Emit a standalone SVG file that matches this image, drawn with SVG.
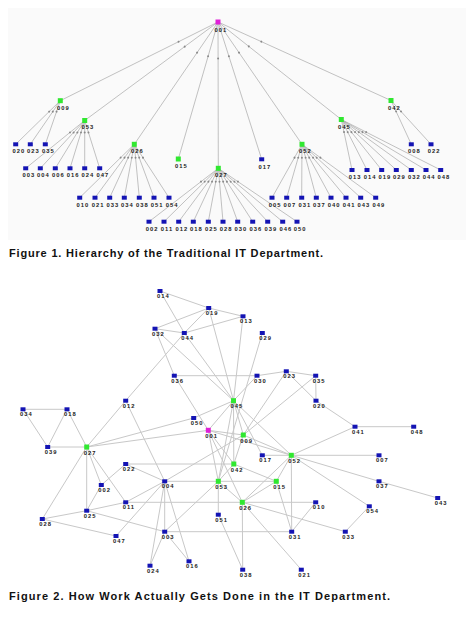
<svg xmlns="http://www.w3.org/2000/svg" width="474" height="617" viewBox="0 0 474 617">
<style>
.t{stroke:#a8a8a8;stroke-width:0.7;fill:none;marker-mid:url(#ah)}
.e{stroke:#c8c8c8;stroke-width:1;fill:none}
.b{fill:#1414b4}
.g{fill:#30e830}
.m{fill:#e020d8}
.l{font-family:"Liberation Sans",Arial,sans-serif;font-weight:bold;font-size:5.8px;letter-spacing:1px;fill:#1a1a1a}
.c{font-family:"Liberation Sans",Arial,sans-serif;font-weight:bold;font-size:11px;fill:#111}
</style>
<defs>
<marker id="ah" markerUnits="userSpaceOnUse" markerWidth="4" markerHeight="4" refX="2" refY="2" orient="auto"><circle cx="2" cy="2" r="1" fill="#8a8a8a"/></marker>
</defs>
<rect width="474" height="617" fill="#fff"/>
<rect x="8" y="8" width="458" height="232" fill="#fafafa"/>

<g id="tree-edges">
<path class="t" d="M218 22L178.6 41.7L60.3 100.7"/>
<path class="t" d="M218 22L184.7 46.6L84.7 120.5"/>
<path class="t" d="M218 22L197.1 52.6L134.3 144.3"/>
<path class="t" d="M218 22L208.1 56.3L178.3 159"/>
<path class="t" d="M218 22L218.1 58.6L218.3 168.3"/>
<path class="t" d="M218 22L228.9 56.3L261.7 159.3"/>
<path class="t" d="M218 22L239 52.6L302 144.3"/>
<path class="t" d="M218 22L248.8 46.4L341.3 119.5"/>
<path class="t" d="M218 22L261.3 41.6L391 100.5"/>
<path class="t" d="M60.3 100.7L49.15 111.6L15.7 144.3"/>
<path class="t" d="M60.3 100.7L52.8 111.6L30.3 144.3"/>
<path class="t" d="M60.3 100.7L56.55 111.6L45.3 144.3"/>
<path class="t" d="M84.7 120.5L69.95 132.45L25.7 168.3"/>
<path class="t" d="M84.7 120.5L73.6 132.45L40.3 168.3"/>
<path class="t" d="M84.7 120.5L77.35 132.45L55.3 168.3"/>
<path class="t" d="M84.7 120.5L81 132.45L70 168.3"/>
<path class="t" d="M84.7 120.5L84.7 132.45L84.7 168.3"/>
<path class="t" d="M84.7 120.5L88.45 132.45L99.7 168.3"/>
<path class="t" d="M134.3 144.3L120.65 157.65L79.7 197.7"/>
<path class="t" d="M134.3 144.3L124.5 157.65L95 197.7"/>
<path class="t" d="M134.3 144.3L128.15 157.65L109.7 197.7"/>
<path class="t" d="M134.3 144.3L131.8 157.65L124.3 197.7"/>
<path class="t" d="M134.3 144.3L135.55 157.65L139.3 197.7"/>
<path class="t" d="M134.3 144.3L139.2 157.65L154 197.7"/>
<path class="t" d="M134.3 144.3L142.98 157.65L169 197.7"/>
<path class="t" d="M218.3 168.3L201 181.65L149 221.7"/>
<path class="t" d="M218.3 168.3L204.7 181.65L164 221.7"/>
<path class="t" d="M218.3 168.3L208.4 181.65L178.7 221.7"/>
<path class="t" d="M218.3 168.3L212.05 181.65L193.3 221.7"/>
<path class="t" d="M218.3 168.3L215.8 181.65L208.3 221.7"/>
<path class="t" d="M218.3 168.3L219.5 181.65L223 221.7"/>
<path class="t" d="M218.3 168.3L223.15 181.65L237.7 221.7"/>
<path class="t" d="M218.3 168.3L226.9 181.65L252.7 221.7"/>
<path class="t" d="M218.3 168.3L230.65 181.65L267.7 221.7"/>
<path class="t" d="M218.3 168.3L234.4 181.65L282.7 221.7"/>
<path class="t" d="M218.3 168.3L237.95 181.65L297 221.7"/>
<path class="t" d="M302 144.3L294.5 157.65L272 197.7"/>
<path class="t" d="M302 144.3L298.2 157.65L286.7 197.7"/>
<path class="t" d="M302 144.3L301.9 157.65L301.7 197.7"/>
<path class="t" d="M302 144.3L305.6 157.65L316.3 197.7"/>
<path class="t" d="M302 144.3L309.25 157.65L331 197.7"/>
<path class="t" d="M302 144.3L313 157.65L346 197.7"/>
<path class="t" d="M302 144.3L316.7 157.65L360.7 197.7"/>
<path class="t" d="M302 144.3L320.4 157.65L375.7 197.7"/>
<path class="t" d="M341.3 119.5L344 132.1L352 170"/>
<path class="t" d="M341.3 119.5L347.7 132.1L367 170"/>
<path class="t" d="M341.3 119.5L351.4 132.1L381.7 170"/>
<path class="t" d="M341.3 119.5L355.05 132.1L396.3 170"/>
<path class="t" d="M341.3 119.5L358.8 132.1L411.3 170"/>
<path class="t" d="M341.3 119.5L362.5 132.1L426 170"/>
<path class="t" d="M341.3 119.5L366.15 132.1L440.7 170"/>
<path class="t" d="M391 100.5L396.1 111.45L411.3 144.3"/>
<path class="t" d="M391 100.5L401 111.45L431 144.3"/>
</g>

<g id="t001"><rect class="m" x="215.5" y="19.5" width="5" height="5"/><text class="l" x="214.5" y="31.5">001</text></g>
<g id="t009"><rect class="g" x="57.8" y="98.2" width="5" height="5"/><text class="l" x="57" y="109.5">009</text></g>
<g id="t053"><rect class="g" x="82.2" y="118" width="5" height="5"/><text class="l" x="81.5" y="129">053</text></g>
<g id="t026"><rect class="g" x="131.8" y="141.8" width="5" height="5"/><text class="l" x="131" y="153">026</text></g>
<g id="t015"><rect class="g" x="175.8" y="156.5" width="5" height="5"/><text class="l" x="175" y="168">015</text></g>
<g id="t027"><rect class="g" x="215.8" y="165.8" width="5" height="5"/><text class="l" x="215" y="177">027</text></g>
<g id="t017"><rect class="b" x="259.2" y="157.3" width="5" height="4"/><text class="l" x="258.5" y="168.5">017</text></g>
<g id="t052"><rect class="g" x="299.5" y="141.8" width="5" height="5"/><text class="l" x="299" y="153">052</text></g>
<g id="t045"><rect class="g" x="338.8" y="117" width="5" height="5"/><text class="l" x="338" y="128.5">045</text></g>
<g id="t042"><rect class="g" x="388.5" y="98" width="5" height="5"/><text class="l" x="388" y="109.5">042</text></g>

<g id="t020"><rect class="b" x="13.2" y="142.3" width="5" height="4"/><text class="l" x="12.5" y="153.3">020</text></g>
<g id="t023"><rect class="b" x="27.8" y="142.3" width="5" height="4"/><text class="l" x="27" y="153.3">023</text></g>
<g id="t035"><rect class="b" x="42.8" y="142.3" width="5" height="4"/><text class="l" x="42" y="153.3">035</text></g>

<g id="t003"><rect class="b" x="23.2" y="166.3" width="5" height="4"/><text class="l" x="22.5" y="177.3">003</text></g>
<g id="t004"><rect class="b" x="37.8" y="166.3" width="5" height="4"/><text class="l" x="37" y="177.3">004</text></g>
<g id="t006"><rect class="b" x="52.8" y="166.3" width="5" height="4"/><text class="l" x="52" y="177.3">006</text></g>
<g id="t016"><rect class="b" x="67.5" y="166.3" width="5" height="4"/><text class="l" x="66.8" y="177.3">016</text></g>
<g id="t024"><rect class="b" x="82.2" y="166.3" width="5" height="4"/><text class="l" x="81.5" y="177.3">024</text></g>
<g id="t047"><rect class="b" x="97.2" y="166.3" width="5" height="4"/><text class="l" x="96.5" y="177.3">047</text></g>

<g id="t010"><rect class="b" x="77.2" y="195.7" width="5" height="4"/><text class="l" x="76.5" y="206.7">010</text></g>
<g id="t021"><rect class="b" x="92.5" y="195.7" width="5" height="4"/><text class="l" x="91.8" y="206.7">021</text></g>
<g id="t033"><rect class="b" x="107.2" y="195.7" width="5" height="4"/><text class="l" x="106.5" y="206.7">033</text></g>
<g id="t034"><rect class="b" x="121.8" y="195.7" width="5" height="4"/><text class="l" x="121.1" y="206.7">034</text></g>
<g id="t038"><rect class="b" x="136.8" y="195.7" width="5" height="4"/><text class="l" x="136.1" y="206.7">038</text></g>
<g id="t051"><rect class="b" x="151.5" y="195.7" width="5" height="4"/><text class="l" x="150.8" y="206.7">051</text></g>
<g id="t054"><rect class="b" x="166.5" y="195.7" width="5" height="4"/><text class="l" x="165.8" y="206.7">054</text></g>

<g id="t002"><rect class="b" x="146.5" y="219.7" width="5" height="4"/><text class="l" x="145.8" y="230.7">002</text></g>
<g id="t011"><rect class="b" x="161.5" y="219.7" width="5" height="4"/><text class="l" x="160.8" y="230.7">011</text></g>
<g id="t012"><rect class="b" x="176.2" y="219.7" width="5" height="4"/><text class="l" x="175.5" y="230.7">012</text></g>
<g id="t018"><rect class="b" x="190.8" y="219.7" width="5" height="4"/><text class="l" x="190.1" y="230.7">018</text></g>
<g id="t025"><rect class="b" x="205.8" y="219.7" width="5" height="4"/><text class="l" x="205.1" y="230.7">025</text></g>
<g id="t028"><rect class="b" x="220.5" y="219.7" width="5" height="4"/><text class="l" x="219.8" y="230.7">028</text></g>
<g id="t030"><rect class="b" x="235.2" y="219.7" width="5" height="4"/><text class="l" x="234.5" y="230.7">030</text></g>
<g id="t036"><rect class="b" x="250.2" y="219.7" width="5" height="4"/><text class="l" x="249.5" y="230.7">036</text></g>
<g id="t039"><rect class="b" x="265.2" y="219.7" width="5" height="4"/><text class="l" x="264.5" y="230.7">039</text></g>
<g id="t046"><rect class="b" x="280.2" y="219.7" width="5" height="4"/><text class="l" x="279.5" y="230.7">046</text></g>
<g id="t050"><rect class="b" x="294.5" y="219.7" width="5" height="4"/><text class="l" x="293.8" y="230.7">050</text></g>

<g id="t005"><rect class="b" x="269.5" y="195.7" width="5" height="4"/><text class="l" x="268.8" y="206.7">005</text></g>
<g id="t007"><rect class="b" x="284.2" y="195.7" width="5" height="4"/><text class="l" x="283.5" y="206.7">007</text></g>
<g id="t031"><rect class="b" x="299.2" y="195.7" width="5" height="4"/><text class="l" x="298.5" y="206.7">031</text></g>
<g id="t037"><rect class="b" x="313.8" y="195.7" width="5" height="4"/><text class="l" x="313.1" y="206.7">037</text></g>
<g id="t040"><rect class="b" x="328.5" y="195.7" width="5" height="4"/><text class="l" x="327.8" y="206.7">040</text></g>
<g id="t041"><rect class="b" x="343.5" y="195.7" width="5" height="4"/><text class="l" x="342.8" y="206.7">041</text></g>
<g id="t043"><rect class="b" x="358.2" y="195.7" width="5" height="4"/><text class="l" x="357.5" y="206.7">043</text></g>
<g id="t049"><rect class="b" x="373.2" y="195.7" width="5" height="4"/><text class="l" x="372.5" y="206.7">049</text></g>

<g id="t013"><rect class="b" x="349.5" y="168" width="5" height="4"/><text class="l" x="348.8" y="179">013</text></g>
<g id="t014"><rect class="b" x="364.5" y="168" width="5" height="4"/><text class="l" x="363.8" y="179">014</text></g>
<g id="t019"><rect class="b" x="379.2" y="168" width="5" height="4"/><text class="l" x="378.5" y="179">019</text></g>
<g id="t029"><rect class="b" x="393.8" y="168" width="5" height="4"/><text class="l" x="393.1" y="179">029</text></g>
<g id="t032"><rect class="b" x="408.8" y="168" width="5" height="4"/><text class="l" x="408.1" y="179">032</text></g>
<g id="t044"><rect class="b" x="423.5" y="168" width="5" height="4"/><text class="l" x="422.8" y="179">044</text></g>
<g id="t048"><rect class="b" x="438.2" y="168" width="5" height="4"/><text class="l" x="437.5" y="179">048</text></g>

<g id="t008"><rect class="b" x="408.8" y="142.3" width="5" height="4"/><text class="l" x="408.1" y="153.3">008</text></g>
<g id="t022"><rect class="b" x="428.5" y="142.3" width="5" height="4"/><text class="l" x="427.8" y="153.3">022</text></g>

<text class="c" x="9" y="257" textLength="314">Figure 1. Hierarchy of the Traditional IT Department.</text>

<g id="net-edges" class="e">
<path d="M160 291L208.7 308M160 291L184.3 333M208.7 308L155 328.7M208.7 308L184.3 333M208.7 308L243 316.3M184.3 333L243 316.3M155 328.7L184.3 333M155 328.7L174.3 375.7M155 328.7L233.5 400.7M184.3 333L125.7 400.7M184.3 333L233.5 400.7M208.7 308L233.5 400.7M243 316.3L233.5 400.7M262.3 333L218.3 481.3"/>
<path d="M174.3 375.7L257 375.7M174.3 375.7L208.3 430.3M257 375.7L286.3 371.3M286.3 371.3L315.7 375.7M257 375.7L233.5 400.7M286.3 371.3L243.3 435M315.7 375.7L243.3 435M315.7 375.7L316 400.7M286.3 371.3L316 400.7M316 400.7L355 426.7M355 426.7L413.7 426.7M355 426.7L291.3 455.3"/>
<path d="M291.3 455.3L379 455.3M291.3 455.3L369.3 506.3M291.3 455.3L379 481.3M379 481.3L437.7 498M262.3 455.3L291.3 455.3M291.3 455.3L243.3 435M291.3 455.3L233.5 400.7M291.3 455.3L276.3 481.3M291.3 455.3L291.7 531.7"/>
<path d="M242.3 502.3L315.7 502.3M242.3 502.3L345.3 531.7M345.3 531.7L369.3 506.3M315.7 502.3L291.7 531.7M242.3 502.3L301.3 569.7M242.3 502.3L242.7 569.7M276.3 481.3L291.7 531.7M164.7 531.7L291.7 531.7M125.7 502.3L242.3 502.3"/>
<path d="M23 409.3L67 409.3M23 409.3L47.7 447M67 409.3L47.7 447M67 409.3L86.7 447M47.7 447L86.7 447M86.7 447L125.7 400.7M86.7 447L193.7 418M86.7 447L208.3 430.3M86.7 447L101.3 485M86.7 447L86.7 510.7M86.7 447L42.3 519M86.7 447L125.7 502.3"/>
<path d="M125.7 400.7L164.7 481.3M125.7 464L233.8 464M125.7 464L164.7 481.3M125.7 464L101.3 485M164.7 481.3L218.3 481.3M164.7 481.3L243.3 435M193.7 418L233.5 400.7"/>
<path d="M86.7 510.7L125.7 502.3M86.7 510.7L101.3 485M86.7 510.7L42.3 519M86.7 510.7L164.7 531.7M42.3 519L116 536M116 536L164.7 481.3M125.7 502.3L164.7 481.3M164.7 531.7L164.7 481.3M164.7 531.7L218.3 481.3M164.7 531.7L150 565.7M164.7 531.7L189 561.3M150 565.7L164.7 481.3M189 561.3L164.7 481.3M218.3 514.7L218.3 481.3M218.3 514.7L242.7 569.7"/>
<path d="M233.5 400.7L243.3 435M233.5 400.7L208.3 430.3M233.5 400.7L233.8 464M233.5 400.7L218.3 481.3M233.5 400.7L262.3 455.3M243.3 435L208.3 430.3M243.3 435L233.8 464M208.3 430.3L233.8 464M208.3 430.3L218.3 481.3M208.3 430.3L291.3 455.3M208.3 430.3L242.3 502.3M233.8 464L218.3 481.3M233.8 464L276.3 481.3M218.3 481.3L242.3 502.3M218.3 481.3L276.3 481.3M276.3 481.3L242.3 502.3M242.3 502.3L291.3 455.3"/>
</g>

<g id="n014"><rect class="b" x="157.5" y="289" width="5" height="4"/><text class="l" x="157" y="298">014</text></g>
<g id="n019"><rect class="b" x="206.2" y="306" width="5" height="4"/><text class="l" x="205.7" y="315">019</text></g>
<g id="n032"><rect class="b" x="152.5" y="326.7" width="5" height="4"/><text class="l" x="152" y="335.7">032</text></g>
<g id="n044"><rect class="b" x="181.8" y="331" width="5" height="4"/><text class="l" x="181.3" y="340">044</text></g>
<g id="n036"><rect class="b" x="171.8" y="373.7" width="5" height="4"/><text class="l" x="171.3" y="382.7">036</text></g>
<g id="n013"><rect class="b" x="240.5" y="314.3" width="5" height="4"/><text class="l" x="240" y="323.3">013</text></g>
<g id="n029"><rect class="b" x="259.8" y="331" width="5" height="4"/><text class="l" x="259.3" y="340">029</text></g>
<g id="n030"><rect class="b" x="254.5" y="373.7" width="5" height="4"/><text class="l" x="254" y="382.7">030</text></g>
<g id="n023"><rect class="b" x="283.8" y="369.3" width="5" height="4"/><text class="l" x="283.3" y="378.3">023</text></g>
<g id="n035"><rect class="b" x="313.2" y="373.7" width="5" height="4"/><text class="l" x="312.7" y="382.7">035</text></g>
<g id="n034"><rect class="b" x="20.5" y="407.3" width="5" height="4"/><text class="l" x="20" y="416.3">034</text></g>
<g id="n018"><rect class="b" x="64.5" y="407.3" width="5" height="4"/><text class="l" x="64" y="416.3">018</text></g>
<g id="n012"><rect class="b" x="123.2" y="398.7" width="5" height="4"/><text class="l" x="122.7" y="407.7">012</text></g>
<g id="n039"><rect class="b" x="45.2" y="445" width="5" height="4"/><text class="l" x="44.7" y="454">039</text></g>
<g id="n027"><rect class="g" x="84.2" y="444.5" width="5" height="5"/><text class="l" x="83.7" y="454.5">027</text></g>
<g id="n050"><rect class="b" x="191.2" y="416" width="5" height="4"/><text class="l" x="190.7" y="425">050</text></g>
<g id="n001"><rect class="m" x="205.8" y="427.8" width="5" height="5"/><text class="l" x="205.3" y="437.8">001</text></g>
<g id="n045"><rect class="g" x="231" y="398.2" width="5" height="5"/><text class="l" x="230.5" y="408.2">045</text></g>
<g id="n022"><rect class="b" x="123.2" y="462" width="5" height="4"/><text class="l" x="122.7" y="471">022</text></g>
<g id="n042"><rect class="g" x="231.3" y="461.5" width="5" height="5"/><text class="l" x="230.8" y="471.5">042</text></g>
<g id="n004"><rect class="b" x="162.2" y="479.3" width="5" height="4"/><text class="l" x="161.7" y="488.3">004</text></g>
<g id="n053"><rect class="g" x="215.8" y="478.8" width="5" height="5"/><text class="l" x="215.3" y="488.8">053</text></g>
<g id="n002"><rect class="b" x="98.8" y="483" width="5" height="4"/><text class="l" x="98.3" y="492">002</text></g>
<g id="n020"><rect class="b" x="313.5" y="398.7" width="5" height="4"/><text class="l" x="313" y="407.7">020</text></g>
<g id="n041"><rect class="b" x="352.5" y="424.7" width="5" height="4"/><text class="l" x="352" y="433.7">041</text></g>
<g id="n048"><rect class="b" x="411.2" y="424.7" width="5" height="4"/><text class="l" x="410.7" y="433.7">048</text></g>
<g id="n009"><rect class="g" x="240.8" y="432.5" width="5" height="5"/><text class="l" x="240.3" y="442.5">009</text></g>
<g id="n017"><rect class="b" x="259.8" y="453.3" width="5" height="4"/><text class="l" x="259.3" y="462.3">017</text></g>
<g id="n052"><rect class="g" x="288.8" y="452.8" width="5" height="5"/><text class="l" x="288.3" y="462.8">052</text></g>
<g id="n007"><rect class="b" x="376.5" y="453.3" width="5" height="4"/><text class="l" x="376" y="462.3">007</text></g>
<g id="n015"><rect class="g" x="273.8" y="478.8" width="5" height="5"/><text class="l" x="273.3" y="488.8">015</text></g>
<g id="n037"><rect class="b" x="376.5" y="479.3" width="5" height="4"/><text class="l" x="376" y="488.3">037</text></g>
<g id="n011"><rect class="b" x="123.2" y="500.3" width="5" height="4"/><text class="l" x="122.7" y="509.3">011</text></g>
<g id="n025"><rect class="b" x="84.2" y="508.7" width="5" height="4"/><text class="l" x="83.7" y="517.7">025</text></g>
<g id="n028"><rect class="b" x="39.8" y="517" width="5" height="4"/><text class="l" x="39.3" y="526">028</text></g>
<g id="n047"><rect class="b" x="113.5" y="534" width="5" height="4"/><text class="l" x="113" y="543">047</text></g>
<g id="n003"><rect class="b" x="162.2" y="529.7" width="5" height="4"/><text class="l" x="161.7" y="538.7">003</text></g>
<g id="n024"><rect class="b" x="147.5" y="563.7" width="5" height="4"/><text class="l" x="147" y="572.7">024</text></g>
<g id="n016"><rect class="b" x="186.5" y="559.3" width="5" height="4"/><text class="l" x="186" y="568.3">016</text></g>
<g id="n051"><rect class="b" x="215.8" y="512.7" width="5" height="4"/><text class="l" x="215.3" y="521.7">051</text></g>
<g id="n026"><rect class="g" x="239.8" y="499.8" width="5" height="5"/><text class="l" x="239.3" y="509.8">026</text></g>
<g id="n010"><rect class="b" x="313.2" y="500.3" width="5" height="4"/><text class="l" x="312.7" y="509.3">010</text></g>
<g id="n054"><rect class="b" x="366.8" y="504.3" width="5" height="4"/><text class="l" x="366.3" y="513.3">054</text></g>
<g id="n043"><rect class="b" x="435.2" y="496" width="5" height="4"/><text class="l" x="434.7" y="505">043</text></g>
<g id="n031"><rect class="b" x="289.2" y="529.7" width="5" height="4"/><text class="l" x="288.7" y="538.7">031</text></g>
<g id="n033"><rect class="b" x="342.8" y="529.7" width="5" height="4"/><text class="l" x="342.3" y="538.7">033</text></g>
<g id="n038"><rect class="b" x="240.2" y="567.7" width="5" height="4"/><text class="l" x="239.7" y="576.7">038</text></g>
<g id="n021"><rect class="b" x="298.8" y="567.7" width="5" height="4"/><text class="l" x="298.3" y="576.7">021</text></g>

<text class="c" x="9" y="600" textLength="381">Figure 2. How Work Actually Gets Done in the IT Department.</text>
</svg>
